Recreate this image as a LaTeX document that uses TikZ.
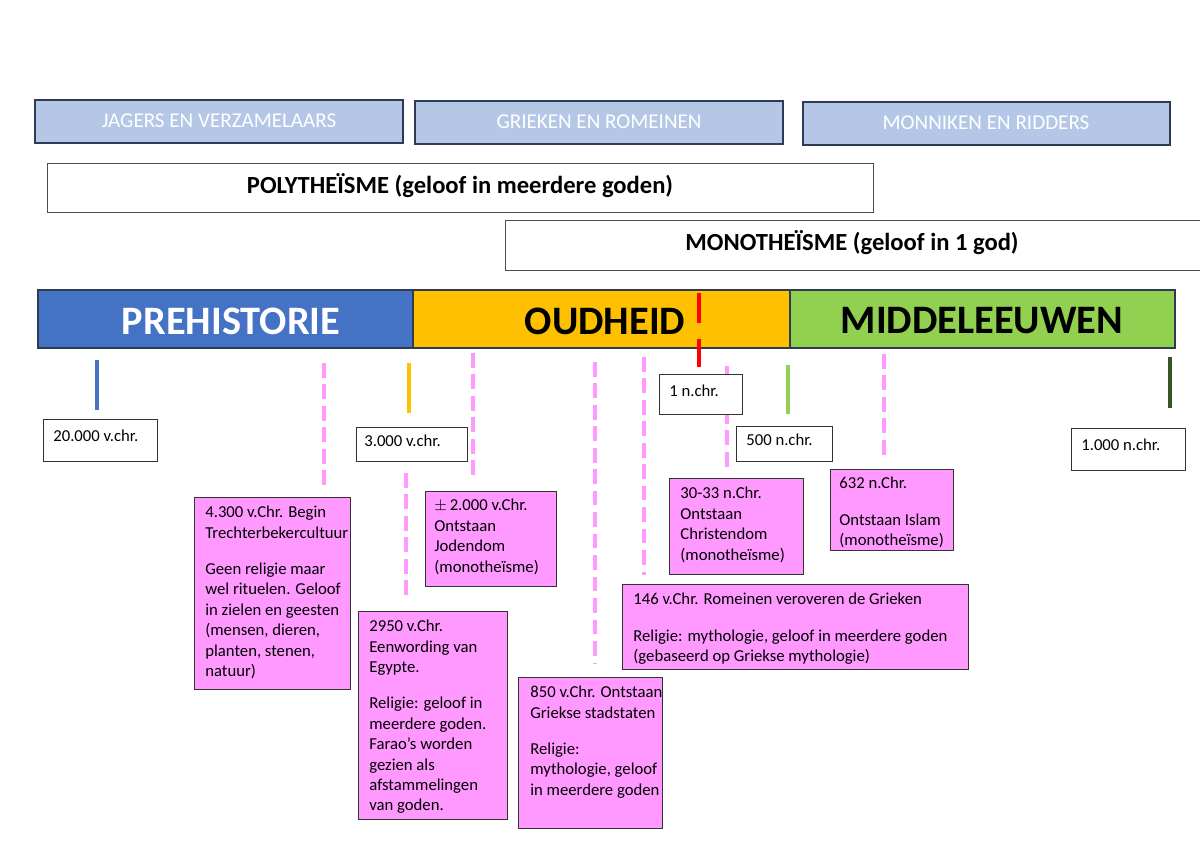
\documentclass[tikz,border=0pt]{standalone}
\usepackage{fontspec}
\setmainfont{Carlito}
\usetikzlibrary{positioning}
\definecolor{eraBlue}{HTML}{4472C4}
\definecolor{eraOrange}{HTML}{FFC000}
\definecolor{eraGreen}{HTML}{92D050}
\definecolor{darkGreen}{HTML}{375623}
\definecolor{paleBlue}{HTML}{B4C7E7}
\definecolor{eventPink}{HTML}{FF99FF}
\definecolor{frame}{HTML}{2F3B55}
\tikzset{
  group/.style = {draw=frame, thick, fill=paleBlue},
  belief/.style = {draw=black!70, fill=white},
  era/.style = {draw=frame, thick},
  datebox/.style = {draw=black!80, fill=white},
  event/.style = {draw=black!80, fill=eventPink},
  txt/.style = {anchor=north west, align=left, inner sep=0pt, font=\fontsize{9.5}{11.6}\selectfont},
  tick/.style = {line width=8pt/3.6},
  pinkline/.style = {line width=8pt/3.6, eventPink, dash pattern=on 30pt/3.6 off 14pt/3.6}
}
\begin{document}
\begin{tikzpicture}[x=0.02cm, y=-0.02cm]
  \useasboundingbox (0,0) rectangle (1200,848);

  % groups
  \draw[group] (35,100) rectangle (403,143);
  \node[white, font=\fontsize{12}{14}\selectfont] (jagers) at (219,121) {JAGERS EN VERZAMELAARS};
  \draw[group] (415,101) rectangle (783,144);
  \node[white, font=\fontsize{12}{14}\selectfont] (grieken) at (599,122) {GRIEKEN EN ROMEINEN};
  \draw[group] (803,102) rectangle (1170,145);
  \node[white, font=\fontsize{12}{14}\selectfont] (monniken) at (986,123) {MONNIKEN EN RIDDERS};

  % belief
  \draw[belief] (47,163) rectangle (873,212);
  \node[font=\bfseries\fontsize{14}{16}\selectfont] (poly) at (460,186) {POLYTHEÏSME (geloof in meerdere goden)};
  \draw[belief] (505,220) rectangle (1205,270);
  \node[font=\bfseries\fontsize{14}{16}\selectfont] (mono) at (852,243) {MONOTHEÏSME (geloof in 1 god)};

  % eras
  \draw[era, fill=eraBlue] (38,290) rectangle (413,348);
  \draw[era, fill=eraOrange] (413,290) rectangle (790,348);
  \draw[era, fill=eraGreen] (790,290) rectangle (1175,348);
  \node[white, font=\bfseries\fontsize{23}{26}\selectfont] (prehist) at (231,321) {PREHISTORIE};
  \node[font=\bfseries\fontsize{23}{26}\selectfont] (oudheid) at (605,321) {OUDHEID};
  \node[font=\bfseries\fontsize{23}{26}\selectfont] (middel) at (982,321) {MIDDELEEUWEN};

  % ticks
  \draw[tick, eraBlue] (97,360) -- (97,410);
  \draw[tick, eraOrange] (409,363) -- (409,413);
  \draw[tick, eraGreen] (788,365) -- (788,414);
  \draw[tick, darkGreen] (1170,357) -- (1170,408);
  \draw[tick, red] (699,293) -- (699,323);
  \draw[tick, red] (699,339) -- (699,367);

  % pink lines
  \draw[pinkline] (324,363) -- (324,490);
  \draw[pinkline] (406,473) -- (406,598);
  \draw[pinkline] (473,353) -- (473,478);
  \draw[pinkline] (595,362) -- (595,664);
  \draw[pinkline] (644,357) -- (644,575);
  \draw[pinkline] (727,366) -- (727,467);
  \draw[pinkline] (884,354) -- (884,457);

  % dates
  \draw[datebox] (43,419) rectangle (157,461);
  \node[txt] (d20000) at (53,430) {20.000 v.chr.};
  \draw[datebox] (356,427) rectangle (467,461);
  \node[txt] (d3000) at (364,435) {3.000 v.chr.};
  \draw[datebox] (659,374) rectangle (742,414);
  \node[txt] (d1) at (669,385) {1 n.chr.};
  \draw[datebox] (736,426) rectangle (832,461);
  \node[txt] (d500) at (746,434) {500 n.chr.};
  \draw[datebox] (1071,428) rectangle (1185,470);
  \node[txt] (d1000) at (1081,439) {1.000 n.chr.};

  % events
  \draw[event] (194,497) rectangle (350,689);
  \node[txt] (e4300) at (205,506) {4.300 v.Chr. Begin\\Trechterbekercultuur\\[9pt]Geen religie maar\\wel rituelen. Geloof\\in zielen en geesten\\(mensen, dieren,\\planten, stenen,\\natuur)};
  \draw[event] (425,491) rectangle (556,586);
  \node[txt] (e2000) at (434,499) {$\pm$\,2.000 v.Chr.\\Ontstaan\\Jodendom\\(monotheïsme)};
  \draw[event] (358,611) rectangle (507,819);
  \node[txt] (e2950) at (369,620) {2950 v.Chr.\\Eenwording van\\Egypte.\\[9pt]Religie: geloof in\\meerdere goden.\\Farao’s worden\\gezien als\\afstammelingen\\van goden.};
  \draw[event] (518,677) rectangle (662,828);
  \node[txt] (e850) at (530,686) {850 v.Chr. Ontstaan\\Griekse stadstaten\\[9pt]Religie:\\mythologie, geloof\\in meerdere goden};
  \draw[event] (622,584) rectangle (968,669);
  \node[txt] (e146) at (633,593) {146 v.Chr. Romeinen veroveren de Grieken\\[9pt]Religie: mythologie, geloof in meerdere goden\\(gebaseerd op Griekse mythologie)};
  \draw[event] (669,478) rectangle (803,574);
  \node[txt] (e30) at (680,487) {30-33 n.Chr.\\Ontstaan\\Christendom\\(monotheïsme)};
  \draw[event] (830,469) rectangle (953,550);
  \node[txt] (e632) at (839,477) {632 n.Chr.\\[9pt]Ontstaan Islam\\(monotheïsme)};
\end{tikzpicture}
\end{document}
